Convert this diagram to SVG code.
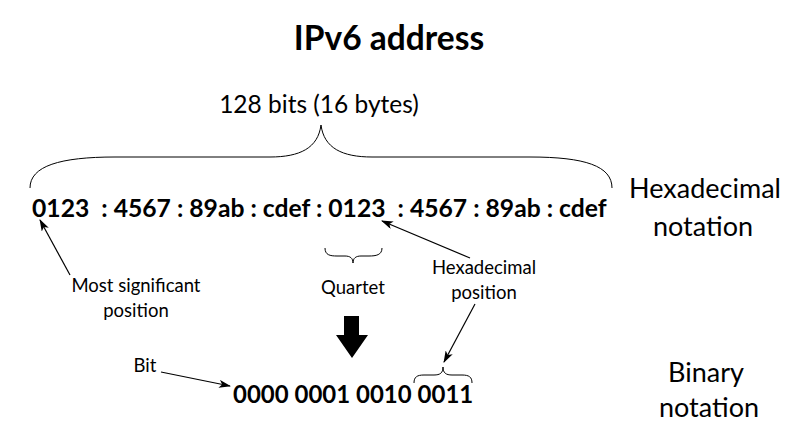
<svg xmlns="http://www.w3.org/2000/svg" width="800" height="443" viewBox="0 0 800 443">
<style>
text{font-family:Lato,"Open Sans","Liberation Sans",sans-serif;fill:#000}
.t{font-size:33.5px;font-weight:bold}
.hex{font-size:24.7px;font-weight:bold}
.bin{font-size:24px;font-weight:bold}
.lab{font-size:27px}
.mid{font-size:24.5px}
.sm{font-size:18.5px}
.ln{fill:none;stroke:#000;stroke-width:1.2}
.br{fill:none;stroke:#000;stroke-width:1}
</style>
<defs>
<marker id="ah" viewBox="0 0 12 8" refX="11" refY="4" markerWidth="12" markerHeight="8" markerUnits="userSpaceOnUse" orient="auto">
<path d="M0,0 L12,4 L0,8 L3,4 z" fill="#000"/>
</marker>
</defs>
<rect width="800" height="443" fill="#fff"/>
<g id="title"><text class="t" x="389" y="50" text-anchor="middle">IPv6 address</text></g>
<g id="bits"><text class="mid" x="319" y="113" text-anchor="middle">128 bits (16 bytes)</text>
<path class="br" d="M30,188 C30,166 60,157 115,157 L270,157 C300,157 318,148 321,125 C324,148 342,157 372,157 L530,157 C585,157 612,166 612,188"/></g>
<g id="hexaddr"><text class="hex" x="32" y="217" xml:space="preserve">0123  : 4567 : 89ab : cdef : 0123  : 4567 : 89ab : cdef</text></g>
<g id="hexlabel"><text class="lab" x="705" y="198" text-anchor="middle">Hexadecimal</text><text class="lab" x="703" y="236" text-anchor="middle">notation</text></g>
<g id="msp"><text class="sm" x="136" y="292" text-anchor="middle">Most significant</text><text class="sm" x="136" y="317" text-anchor="middle">position</text></g>
<g id="quartet"><path class="br" d="M325,248 C325,255 330,256 337,256 L345,256 C350,256 353,258 353,263 C353,258 356,256 361,256 L369,256 C376,256 382,255 382,248"/><text class="sm" x="353" y="294" text-anchor="middle">Quartet</text></g>
<g id="hexpos"><text class="sm" x="484" y="274" text-anchor="middle">Hexadecimal</text><text class="sm" x="484" y="299" text-anchor="middle">position</text></g>
<g id="bigarrow"><polygon points="344,316 359,316 359,335 368,335 352,358 336,335 344,335" fill="#000"/></g>
<g id="bit"><text class="sm" x="145" y="372" text-anchor="middle">Bit</text></g>
<g id="binary"><text class="bin" x="233" y="403" xml:space="preserve">0000 0001 0010 0011</text>
<path class="br" d="M414,383 C414,377 417,375 424,375 L434,375 C440,375 443,373 443,367 C443,373 446,375 452,375 L462,375 C469,375 472,377 472,383"/></g>
<g id="binlabel"><text class="lab" x="706" y="382" text-anchor="middle">Binary</text><text class="lab" x="709" y="417" text-anchor="middle">notation</text></g>
<g id="connectors">
<line class="ln" x1="70" y1="275" x2="40" y2="220" marker-end="url(#ah)"/>
<line class="ln" x1="470" y1="258" x2="382" y2="221" marker-end="url(#ah)"/>
<line class="ln" x1="475" y1="304" x2="444" y2="362" marker-end="url(#ah)"/>
<line class="ln" x1="161" y1="372" x2="230" y2="386" marker-end="url(#ah)"/>
</g>
</svg>
